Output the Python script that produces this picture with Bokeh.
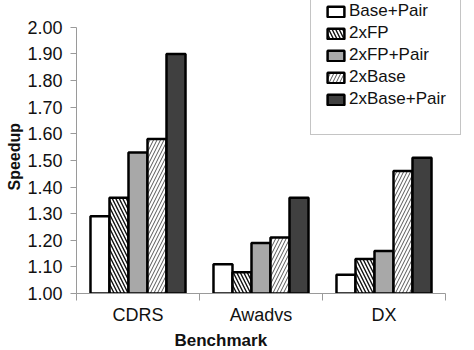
import numpy as np
from bokeh.plotting import figure
from bokeh.models import (Range1d, FixedTicker, ColumnDataSource, Legend, LegendItem,
                          Title, NumeralTickFormatter)
from bokeh.transform import dodge
from bokeh.embed import file_html
from bokeh.resources import INLINE

benchmarks = ["CDRS", "Awadvs", "DX"]
series = ["Base+Pair", "2xFP", "2xFP+Pair", "2xBase", "2xBase+Pair"]
base_pair = [1.29, 1.11, 1.07]
x2fp = [1.36, 1.08, 1.13]
x2fp_pair = [1.53, 1.19, 1.16]
x2base = [1.58, 1.21, 1.46]
x2base_pair = [1.90, 1.36, 1.51]
y_ticks = [1.00, 1.10, 1.20, 1.30, 1.40, 1.50, 1.60, 1.70, 1.80, 1.90, 2.00]

FONT = "Liberation Sans"
AXIS_GRAY = "#9a9a9a"

n = len(benchmarks)
centers = list(np.arange(n) + 0.5)
src = ColumnDataSource(dict(x=centers, s0=base_pair, s1=x2fp, s2=x2fp_pair,
                            s3=x2base, s4=x2base_pair))

# The frame spans the whole top/right so the legend (clipped to the frame) fits;
# the axes themselves are bounded to the data extent.
x_end = n * 398.0 / 369.0
y_end = 1.0 + 1.0 * 295.0 / 268.0
p = figure(width=474, height=350, x_range=Range1d(0, x_end),
           y_range=Range1d(1.0, y_end), output_backend="svg", toolbar_location=None,
           min_border_left=76, min_border_right=0, min_border_top=0,
           min_border_bottom=55)
p.xgrid.visible = False
p.ygrid.visible = False
p.outline_line_color = None
p.background_fill_color = "white"
p.border_fill_color = "white"

bw = 0.1545
offsets = [-2 * bw, -bw, 0, bw, 2 * bw]
styles = [
    dict(fill_color="white"),
    dict(fill_color="white", hatch_pattern="left_diagonal_line", hatch_color="#111111",
         hatch_scale=7, hatch_weight=1.4),
    dict(fill_color="#a8a8a8"),
    dict(fill_color="white", hatch_pattern="right_diagonal_line", hatch_color="#555555",
         hatch_scale=7, hatch_weight=1.0),
    dict(fill_color="#404040"),
]
renderers = []
for i, name in enumerate(series):
    r = p.vbar(x=dodge("x", offsets[i], range=p.x_range), top="s%d" % i, bottom=1.0,
               width=bw, source=src, line_color="black", line_width=2.5, **styles[i])
    renderers.append(r)

# x axis
xa = p.xaxis[0]
xa.bounds = (0, n)
xa.ticker = FixedTicker(ticks=centers, minor_ticks=list(range(n + 1)))
xa.major_label_overrides = {c: b for c, b in zip(centers, benchmarks)}
xa.major_tick_line_color = None
xa.major_tick_out = 0
xa.major_tick_in = 0
xa.minor_tick_out = 7
xa.minor_tick_in = 0
xa.minor_tick_line_color = AXIS_GRAY
xa.axis_line_color = AXIS_GRAY
xa.major_label_text_font = FONT
xa.major_label_text_font_size = "18px"
xa.major_label_text_color = "#111111"
xa.major_label_standoff = 4

# y axis
ya = p.yaxis[0]
ya.bounds = (y_ticks[0], y_ticks[-1])
ya.ticker = FixedTicker(ticks=y_ticks, minor_ticks=[])
ya.formatter = NumeralTickFormatter(format="0.00")
ya.major_tick_out = 6
ya.major_tick_in = 0
ya.major_tick_line_color = AXIS_GRAY
ya.axis_line_color = AXIS_GRAY
ya.major_label_text_font = FONT
ya.major_label_text_font_size = "18px"
ya.major_label_text_color = "#111111"
ya.major_label_standoff = 8

ytitle = Title(text="Speedup", align="left", offset=103, text_font=FONT,
               text_font_style="bold", text_font_size="16px", text_color="#111111",
               standoff=4)
p.add_layout(ytitle, "left")

xtitle = Title(text="Benchmark", align="left", offset=98, text_font=FONT,
               text_font_style="bold", text_font_size="17px", text_color="#111111",
               standoff=2)
p.add_layout(xtitle, "below")

legend = Legend(items=[LegendItem(label=s, renderers=[r]) for s, r in zip(series, renderers)],
                location=(234, 158))
legend.label_text_font = FONT
legend.label_text_font_size = "17px"
legend.label_text_color = "#111111"
legend.glyph_width = 21
legend.glyph_height = 13
legend.label_standoff = 3
legend.label_height = 13
legend.spacing = 2
legend.padding = 14
legend.margin = 0
legend.border_line_color = "#8a8a8a"
legend.border_line_width = 1
legend.background_fill_color = "white"
legend.background_fill_alpha = 1.0
legend.title = " "
legend.title_location = "below"
legend.title_text_font_size = "8px"
legend.title_standoff = 2
p.add_layout(legend)

open("out.html", "w").write(file_html(p, INLINE))
